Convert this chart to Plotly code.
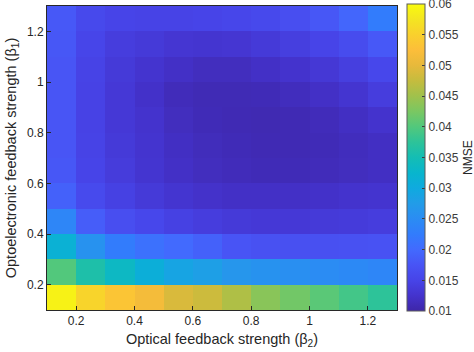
import plotly.graph_objects as go

beta2 = [0.15, 0.25, 0.35, 0.45, 0.55, 0.65, 0.75, 0.85, 0.95, 1.05, 1.15, 1.25]
beta1 = [0.15, 0.25, 0.35, 0.45, 0.55, 0.65, 0.75, 0.85, 0.95, 1.05, 1.15, 1.25]

nmse = [
    [0.0590, 0.0555, 0.0535, 0.0515, 0.0490, 0.0480, 0.0460, 0.0435, 0.0420, 0.0405, 0.0390, 0.0375],
    [0.0400, 0.0360, 0.0335, 0.0310, 0.0290, 0.0280, 0.0265, 0.0260, 0.0255, 0.0250, 0.0245, 0.0240],
    [0.0315, 0.0260, 0.0225, 0.0210, 0.0200, 0.0190, 0.0175, 0.0170, 0.0168, 0.0168, 0.0170, 0.0172],
    [0.0240, 0.0185, 0.0165, 0.0155, 0.0145, 0.0140, 0.0135, 0.0133, 0.0133, 0.0135, 0.0137, 0.0140],
    [0.0190, 0.0160, 0.0145, 0.0135, 0.0128, 0.0123, 0.0120, 0.0120, 0.0120, 0.0122, 0.0125, 0.0127],
    [0.0178, 0.0150, 0.0138, 0.0128, 0.0120, 0.0115, 0.0112, 0.0110, 0.0110, 0.0112, 0.0115, 0.0118],
    [0.0176, 0.0148, 0.0135, 0.0127, 0.0118, 0.0113, 0.0110, 0.0108, 0.0108, 0.0110, 0.0114, 0.0118],
    [0.0176, 0.0147, 0.0133, 0.0125, 0.0115, 0.0110, 0.0108, 0.0107, 0.0108, 0.0112, 0.0118, 0.0125],
    [0.0176, 0.0147, 0.0133, 0.0122, 0.0112, 0.0109, 0.0109, 0.0110, 0.0114, 0.0120, 0.0128, 0.0140],
    [0.0176, 0.0148, 0.0135, 0.0127, 0.0120, 0.0115, 0.0115, 0.0120, 0.0125, 0.0132, 0.0142, 0.0155],
    [0.0178, 0.0152, 0.0140, 0.0135, 0.0130, 0.0128, 0.0130, 0.0135, 0.0142, 0.0150, 0.0162, 0.0180],
    [0.0180, 0.0158, 0.0150, 0.0148, 0.0148, 0.0150, 0.0153, 0.0158, 0.0166, 0.0178, 0.0195, 0.0225],
]

tick_vals = [0.2, 0.4, 0.6, 0.8, 1.0, 1.2]
tick_text = ["0.2", "0.4", "0.6", "0.8", "1", "1.2"]
cb_vals = [0.01, 0.015, 0.02, 0.025, 0.03, 0.035, 0.04, 0.045, 0.05, 0.055, 0.06]
cb_text = ["0.01", "0.015", "0.02", "0.025", "0.03", "0.035", "0.04", "0.045", "0.05", "0.055", "0.06"]

parula = [
    [0.00, "rgb(62,38,168)"],
    [0.05, "rgb(68,51,205)"],
    [0.10, "rgb(71,68,232)"],
    [0.15, "rgb(72,84,245)"],
    [0.20, "rgb(66,106,254)"],
    [0.25, "rgb(50,124,252)"],
    [0.30, "rgb(43,140,243)"],
    [0.35, "rgb(34,156,232)"],
    [0.40, "rgb(15,170,223)"],
    [0.45, "rgb(8,181,205)"],
    [0.50, "rgb(20,189,180)"],
    [0.55, "rgb(45,195,153)"],
    [0.60, "rgb(82,200,124)"],
    [0.65, "rgb(122,199,98)"],
    [0.70, "rgb(160,193,76)"],
    [0.75, "rgb(197,188,62)"],
    [0.80, "rgb(231,185,59)"],
    [0.85, "rgb(252,190,58)"],
    [0.90, "rgb(249,208,45)"],
    [0.95, "rgb(244,229,33)"],
    [1.00, "rgb(249,251,14)"],
]

font_family = "Liberation Sans, Arial, Helvetica"

fig = go.Figure(go.Heatmap(
    x=beta2, y=beta1, z=nmse,
    colorscale=parula, zmin=0.01, zmax=0.06,
    colorbar=dict(
        x=(407 - 47) / 350, xanchor="left", xpad=0, ypad=0,
        y=0.5, yanchor="middle", len=307 / 305, lenmode="fraction",
        thickness=18, outlinewidth=1, outlinecolor="rgb(90,90,90)",
        tickvals=cb_vals, ticktext=cb_text, ticks="inside", ticklen=3,
        tickcolor="rgb(60,60,60)", ticklabeloverflow="allow",
        tickfont=dict(family=font_family, size=12, color="rgb(60,60,60)"),
    ),
))

axis_common = dict(
    showgrid=False, zeroline=False, showline=True, mirror=True,
    linecolor="rgb(40,40,40)", linewidth=1, ticks="inside", ticklen=4,
    tickcolor="rgb(40,40,40)",
    tickfont=dict(family=font_family, size=12, color="rgb(38,38,38)"),
)

fig.update_layout(
    width=474, height=352,
    margin=dict(l=47, r=77, t=5, b=42),
    paper_bgcolor="white", plot_bgcolor="white",
    xaxis=dict(range=[0.1, 1.3], tickvals=tick_vals, ticktext=tick_text,
               title=dict(text="Optical feedback strength (β<sub>2</sub>)",
                          font=dict(family=font_family, size=14.5, color="rgb(38,38,38)"),
                          standoff=6),
               **axis_common),
    yaxis=dict(range=[0.1, 1.3], tickvals=tick_vals, ticktext=tick_text,
               title=dict(text="Optoelectronic feedback strength (β<sub>1</sub>)",
                          font=dict(family=font_family, size=14.5, color="rgb(38,38,38)"),
                          standoff=6),
               **axis_common),
    annotations=[dict(
        text="NMSE", textangle=-90, x=1.0 + (468 - 397) / 350, y=0.5,
        xref="paper", yref="paper", showarrow=False, xanchor="center", yanchor="middle",
        font=dict(family=font_family, size=12, color="rgb(38,38,38)"),
    )],
)

fig.write_html("out.html")
